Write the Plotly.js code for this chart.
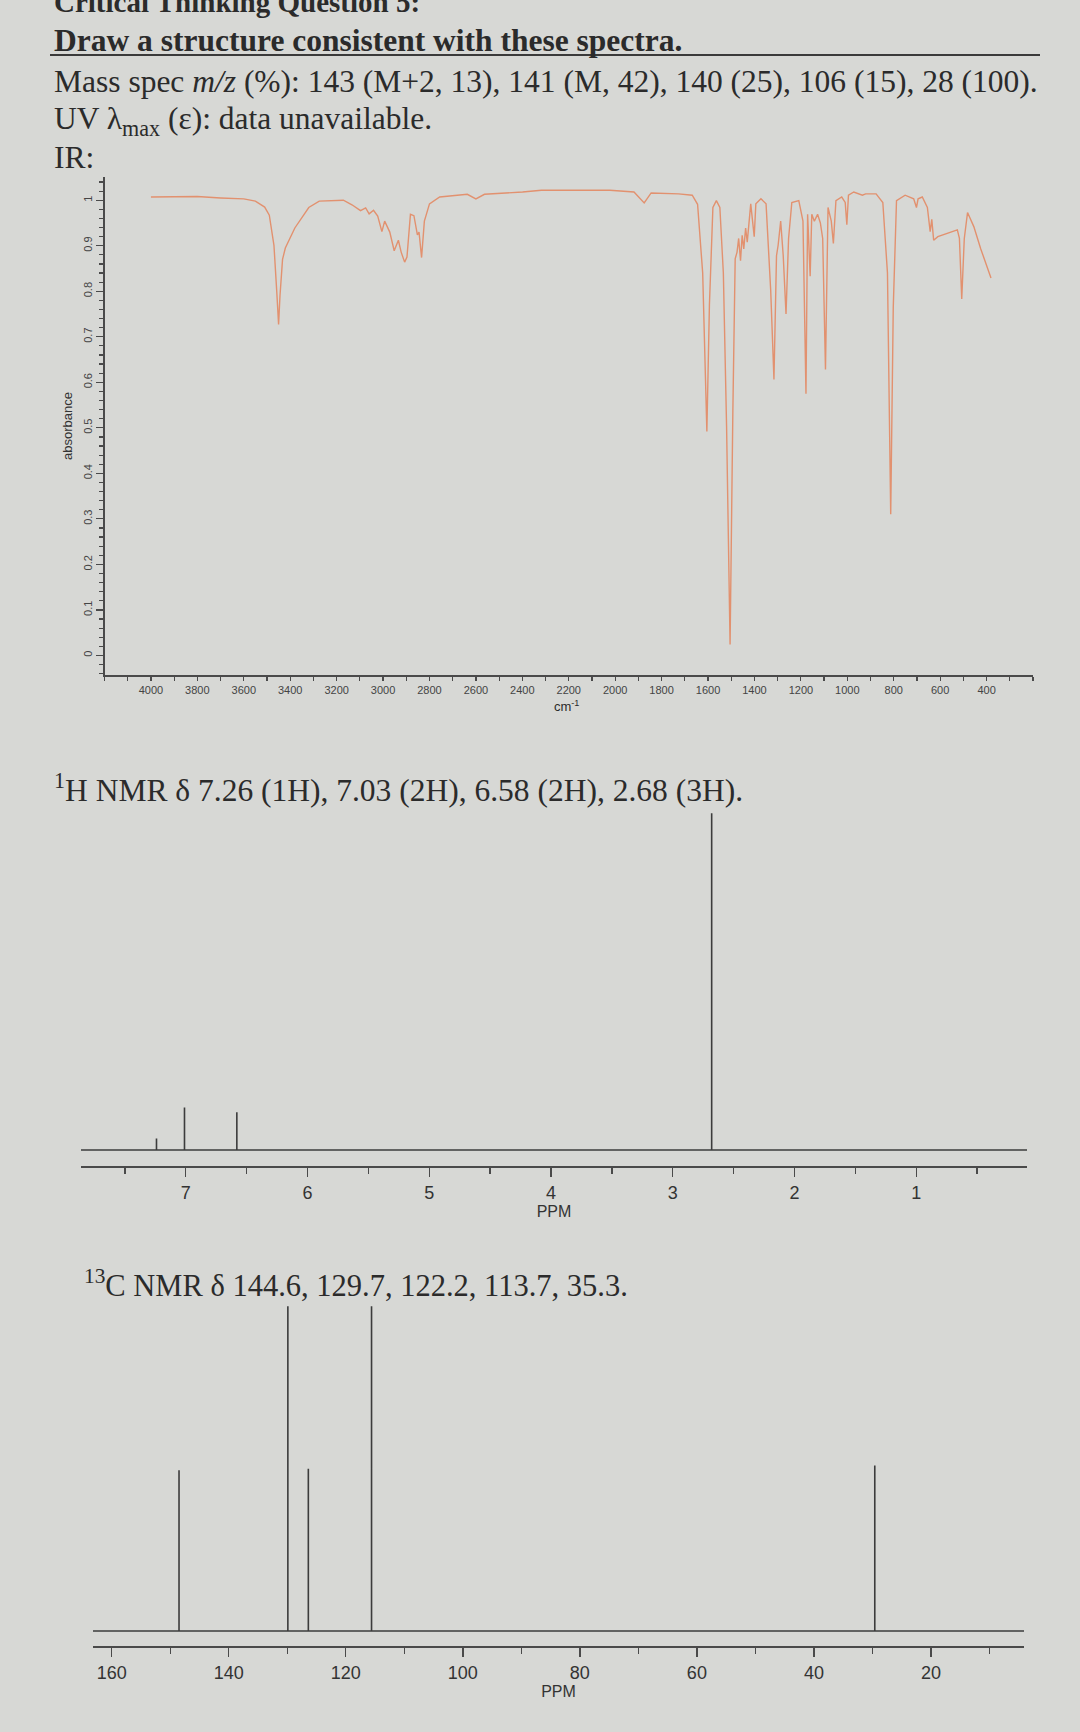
<!DOCTYPE html>
<html>
<head>
<meta charset="utf-8">
<script src="https://cdn.plot.ly/plotly-3.0.1.min.js"></script>
<style>
html,body{margin:0;padding:0;background:#d7d8d5;}
#chart{width:1080px;height:1732px;}
</style>
</head>
<body>
<div id="chart"></div>
<script>
// ---------------- DATA ----------------
// IR spectrum (wavenumber cm^-1, absorbance as plotted)
const irWavenumber = [4000,3900,3800,3700,3600,3550,3510,3490,3470,3458,3450,3444,3433,3421,3380,3320,3275,3171,3134,3097,3075,3060,3041,3023,3005,2993,2971,2952,2934,2922,2907,2897,2882,2867,2852,2845,2834,2822,2800,2756,2637,2600,2563,2399,2318,2023,1919,1875,1845,1727,1668,1645,1623,1605,1594,1579,1564,1549,1534,1520,1505,1493,1483,1475,1468,1460,1453,1446,1438,1431,1416,1401,1394,1372,1350,1330,1316,1305,1298,1287,1276,1264,1253,1239,1209,1191,1178,1171,1160,1153,1142,1128,1116,1106,1094,1083,1069,1060,1049,1024,1009,1002,995,972,935,921,876,847,827,813,802,788,751,714,702,695,677,655,643,636,628,610,566,526,517,507,496,482,455,425,381];
const irAbsorbance = [1.007,1.008,1.008,1.005,1.003,0.998,0.985,0.967,0.901,0.80,0.727,0.79,0.87,0.895,0.939,0.984,0.998,1.0,0.99,0.977,0.983,0.97,0.978,0.965,0.931,0.954,0.93,0.889,0.912,0.886,0.864,0.875,0.969,0.966,0.924,0.93,0.874,0.954,0.992,1.007,1.013,1.003,1.013,1.018,1.022,1.022,1.018,0.994,1.016,1.014,1.011,0.991,0.84,0.492,0.77,0.984,0.999,0.984,0.84,0.5,0.024,0.537,0.871,0.886,0.916,0.867,0.923,0.893,0.939,0.908,0.992,0.92,0.992,1.003,0.992,0.802,0.606,0.878,0.901,0.954,0.878,0.75,0.916,0.995,0.999,0.954,0.575,0.969,0.833,0.969,0.954,0.969,0.95,0.916,0.628,0.984,0.954,0.905,0.999,1.007,0.995,0.946,1.011,1.018,1.011,1.014,1.014,0.995,0.84,0.31,0.765,0.999,1.011,1.003,0.984,1.003,1.007,0.984,0.931,0.958,0.912,0.92,0.927,0.935,0.916,0.783,0.916,0.973,0.942,0.893,0.829];
const irTickValues = [4000,3800,3600,3400,3200,3000,2800,2600,2400,2200,2000,1800,1600,1400,1200,1000,800,600,400];
const irYTicks = [0,0.1,0.2,0.3,0.4,0.5,0.6,0.7,0.8,0.9,1];

// 1H NMR (ppm, relative height)
const hShift = [7.24, 7.01, 6.58, 2.68];
const hHeight = [0.034, 0.126, 0.112, 1.0];
const hTicks = [7,6,5,4,3,2,1];

// 13C NMR (ppm, relative height)
const cShift = [148.5, 129.9, 126.4, 115.6, 29.6];
const cHeight = [0.495, 1.0, 0.50, 1.0, 0.51];
const cTicks = [160,140,120,100,80,60,40,20];

// text
const textLines = {
  q: "Critical Thinking Question 5:",
  draw: "Draw a structure consistent with these spectra.",
  ms: "Mass spec <i>m/z</i> (%): 143 (M+2, 13), 141 (M, 42), 140 (25), 106 (15), 28 (100).",
  uv: "UV λ<sub>max</sub> (ε): data unavailable.",
  ir: "IR:",
  h: "<sup>1</sup>H NMR δ 7.26 (1H), 7.03 (2H), 6.58 (2H), 2.68 (3H).",
  c: "<sup>13</sup>C NMR δ 144.6, 129.7, 122.2, 113.7, 35.3.",
  cm: "cm<sup>-1</sup>"
};

// ---------------- HELPERS ----------------
const W = 1080, H = 1732;
const fx = p => p / W;
const fy = p => 1 - p / H;

function stickLine(shifts, heights, left, right) {
  const xs = [left], ys = [0];
  const idx = shifts.map((s, i) => i).sort((a, b) => shifts[b] - shifts[a]);
  idx.forEach(i => { xs.push(shifts[i], shifts[i], shifts[i]); ys.push(0, heights[i], 0); });
  xs.push(right); ys.push(0);
  return {x: xs, y: ys};
}

const hRange = [7.86, 0.09];
const cRange = [163.2, 4.1];
const hLine = stickLine(hShift, hHeight, hRange[0], hRange[1]);
const cLine = stickLine(cShift, cHeight, cRange[0], cRange[1]);

const axisCol = '#4a4a4a';
const serif = 'Liberation Serif, Times New Roman, serif';
const sans = 'Liberation Sans, Arial, sans-serif';
const txtCol = '#2b2b2b';

const traces = [
  {x: irWavenumber, y: irAbsorbance, xaxis: 'x', yaxis: 'y', mode: 'lines',
   line: {color: '#e2916f', width: 1.4}, hoverinfo: 'skip'},
  {x: hLine.x, y: hLine.y, xaxis: 'x2', yaxis: 'y2', mode: 'lines',
   line: {color: '#3c3c3c', width: 1.6}, hoverinfo: 'skip'},
  {x: cLine.x, y: cLine.y, xaxis: 'x3', yaxis: 'y3', mode: 'lines',
   line: {color: '#3c3c3c', width: 1.6}, hoverinfo: 'skip'}
];

function ann(text, x, y, size, bold, family, anchor) {
  return {text: bold ? '<b>' + text + '</b>' : text, x: fx(x), y: fy(y), xref: 'paper', yref: 'paper',
          xanchor: anchor || 'left', yanchor: 'middle', showarrow: false,
          font: {family: family || serif, size: size, color: txtCol}};
}

const layout = {
  width: W, height: H,
  margin: {l: 0, r: 0, t: 0, b: 0},
  paper_bgcolor: '#d7d8d5',
  plot_bgcolor: 'rgba(0,0,0,0)',
  showlegend: false,
  xaxis: {
    domain: [fx(104.5), fx(1033)], range: [4200, 200], anchor: 'y',
    showgrid: false, zeroline: false, showline: true, linecolor: axisCol, linewidth: 1.6,
    tickmode: 'array', tickvals: irTickValues, ticks: 'outside', ticklen: 4, tickcolor: axisCol, tickwidth: 1.2,
    minor: {tickmode: 'linear', tick0: 0, dtick: 100, ticks: 'outside', ticklen: 4, tickcolor: axisCol, showgrid: false},
    tickfont: {family: sans, size: 11, color: '#444'}
  },
  yaxis: {
    domain: [fy(675), fy(177)], range: [-0.043, 1.051], anchor: 'x',
    showgrid: false, zeroline: false, showline: true, linecolor: axisCol, linewidth: 1.6,
    tickmode: 'array', tickvals: irYTicks, ticks: 'outside', ticklen: 7, tickcolor: axisCol, tickwidth: 1.2,
    minor: {tickmode: 'linear', tick0: 0, dtick: 0.02, ticks: 'outside', ticklen: 4, tickcolor: axisCol, showgrid: false},
    tickangle: -90, tickfont: {family: sans, size: 11, color: '#444'},
    title: {text: 'absorbance', font: {family: sans, size: 13, color: '#333'}, standoff: 6}
  },
  xaxis2: {
    domain: [fx(81), fx(1027)], range: hRange, anchor: 'y2',
    showgrid: false, zeroline: false, showline: true, linecolor: axisCol, linewidth: 2,
    tickmode: 'array', tickvals: hTicks, ticks: 'outside', ticklen: 9, tickcolor: axisCol, tickwidth: 1.4,
    minor: {tickmode: 'linear', tick0: 0.5, dtick: 1, ticks: 'outside', ticklen: 6, tickcolor: axisCol, showgrid: false},
    tickfont: {family: sans, size: 18, color: '#333'},
    title: {text: 'PPM', font: {family: sans, size: 16, color: '#333'}, standoff: 0}
  },
  yaxis2: {
    domain: [fy(1166), fy(812)], range: [-0.0475, 1.004], anchor: 'x2',
    visible: false
  },
  xaxis3: {
    domain: [fx(93), fx(1024)], range: cRange, anchor: 'y3',
    showgrid: false, zeroline: false, showline: true, linecolor: axisCol, linewidth: 2,
    tickmode: 'array', tickvals: cTicks, ticks: 'outside', ticklen: 9, tickcolor: axisCol, tickwidth: 1.4,
    minor: {tickmode: 'linear', tick0: 10, dtick: 20, ticks: 'outside', ticklen: 6, tickcolor: axisCol, showgrid: false},
    tickfont: {family: sans, size: 18, color: '#333'},
    title: {text: 'PPM', font: {family: sans, size: 16, color: '#333'}, standoff: 0}
  },
  yaxis3: {
    domain: [fy(1646), fy(1305)], range: [-0.046, 1.004], anchor: 'x3',
    visible: false
  },
  shapes: [
    {type: 'line', xref: 'paper', yref: 'paper', x0: fx(50), x1: fx(1040), y0: fy(55), y1: fy(55),
     line: {color: '#3a3a3a', width: 2}}
  ],
  annotations: [
    ann(textLines.q, 52, 2, 29, true),
    ann(textLines.draw, 52, 40, 31.5, true),
    ann(textLines.ms, 52, 82, 31.5, false),
    ann(textLines.uv, 52, 121, 31.5, false),
    ann(textLines.ir, 52, 158, 31.5, false),
    ann(textLines.h, 52, 788, 31.5, false),
    ann(textLines.c, 82, 1283, 30.5, false),
    ann(textLines.cm, 566, 706, 13, false, sans, 'center')
  ]
};

Plotly.newPlot('chart', traces, layout, {staticPlot: true, displayModeBar: false});
</script>
</body>
</html>
